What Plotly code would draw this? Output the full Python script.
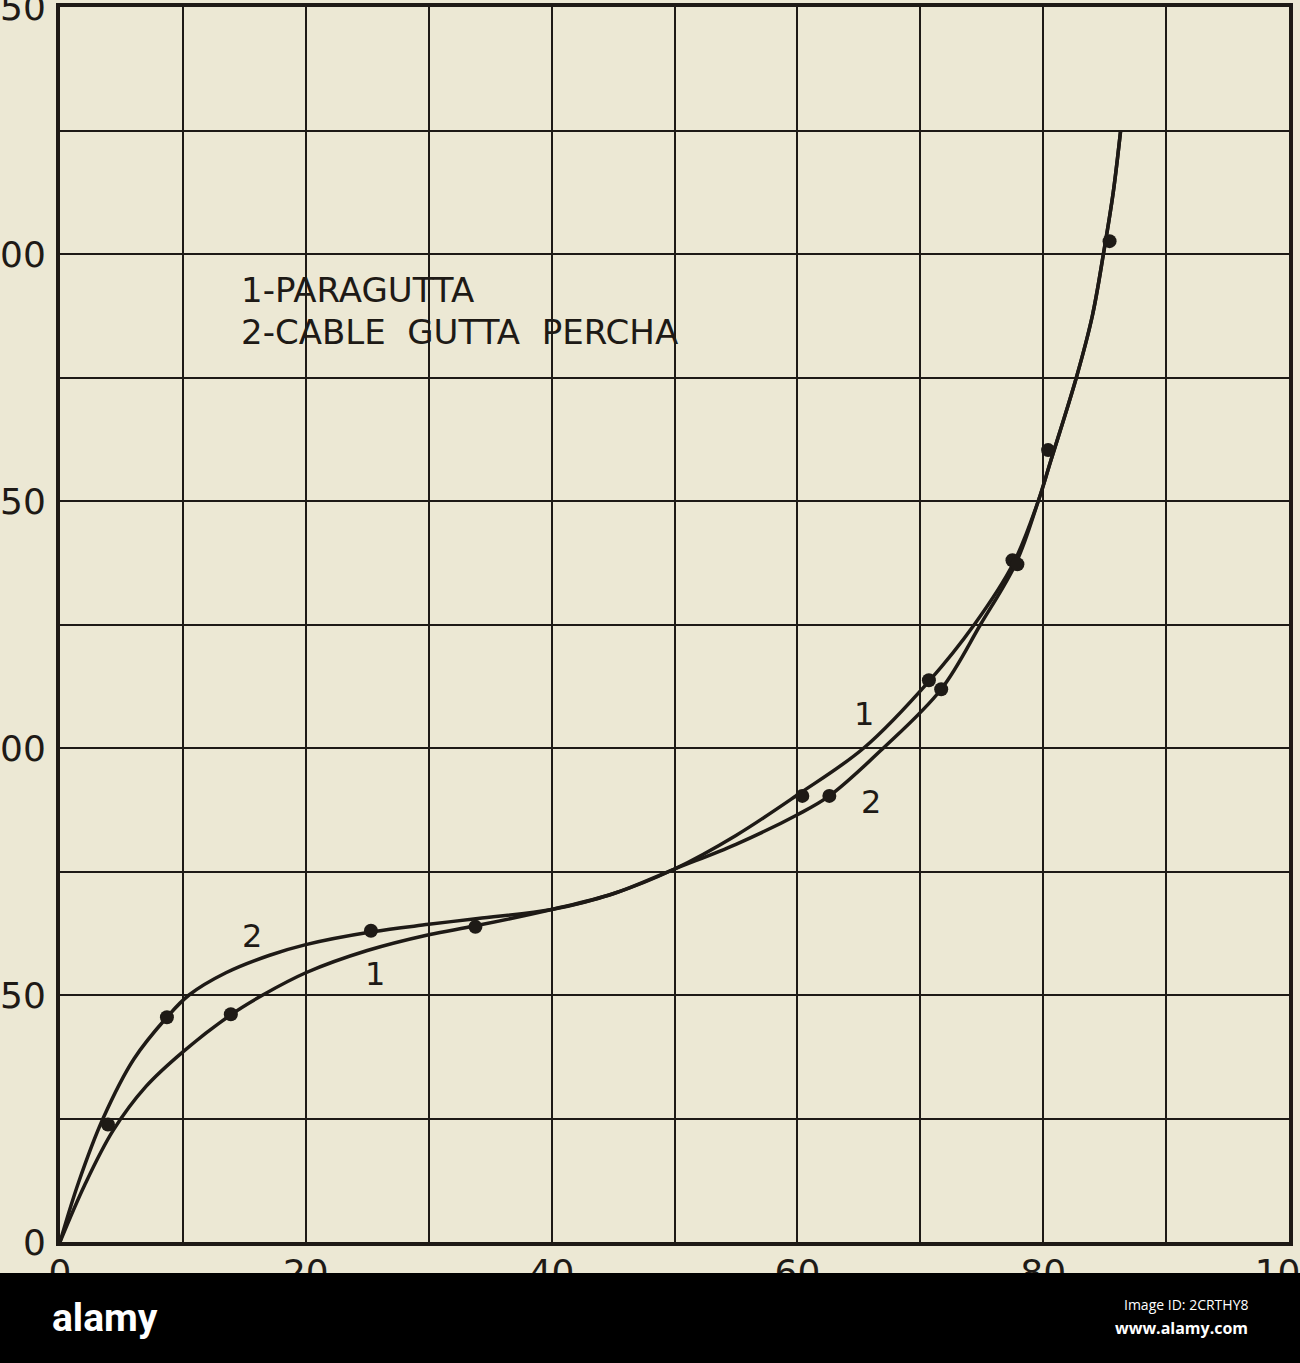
import plotly.graph_objects as go

# ---- data ----
# Curve 1 - Paragutta
c1_x = [0, 2.0, 4.3, 7.0, 10.0, 13.9, 16.5, 20.0, 25.0, 30.0, 33.8, 40.0, 45.0, 50.0,
        55.0, 60.0, 65.4, 70.7, 74.4, 77.6, 79.6, 80.6, 82.7, 84.0, 84.9, 85.7, 86.3]
c1_y = [0, 11.5, 22.5, 31.5, 38.5, 46.0, 50.0, 54.5, 59.0, 62.2, 64.0, 67.3, 70.5, 75.5,
        82.3, 90.5, 100.0, 113.5, 125.0, 137.5, 150.0, 158.0, 175.0, 187.5, 200.0, 212.5, 225.0]
# Curve 2 - Cable gutta percha
c2_x = [0, 1.5, 3.5, 6.0, 8.7, 10.5, 13.5, 17.0, 20.0, 25.4, 30.0, 34.0, 40.0, 45.0, 50.0,
        55.0, 60.0, 62.6, 67.0, 71.7, 74.9, 77.8, 79.6, 80.6, 82.7, 84.0, 84.9, 85.7, 86.3]
c2_y = [0, 12.0, 25.0, 37.0, 45.5, 50.0, 54.5, 58.0, 60.2, 62.8, 64.3, 65.5, 67.3, 70.5, 75.5,
        80.5, 86.5, 90.3, 100.0, 111.9, 125.0, 137.5, 150.0, 158.0, 175.0, 187.5, 200.0, 212.5, 225.0]

# observed points (dots)
p1_x = [3.9, 13.9, 33.8, 60.4, 70.7, 77.5, 80.4, 85.4]
p1_y = [23.8, 46.1, 63.8, 90.3, 113.7, 138.0, 160.3, 202.6]
p2_x = [8.7, 25.3, 62.6, 71.7, 77.9]
p2_y = [45.5, 63.0, 90.3, 111.9, 137.2]

x_ticks = [0, 20, 40, 60, 80, 100]
y_ticks = [0, 50, 100, 150, 200, 250]

legend_lines = ["1-PARAGUTTA", "2-CABLE&nbsp;&nbsp;GUTTA&nbsp;&nbsp;PERCHA"]
curve_labels = [("2", 15.6, 61.9), ("1", 25.6, 54.3), ("1", 65.4, 106.9), ("2", 66.0, 89.1)]

INK = "#1e1a16"
PAPER = "#ece8d4"
FONT = "DejaVu Sans"

fig = go.Figure()
for cx, cy in [(c1_x, c1_y), (c2_x, c2_y)]:
    fig.add_trace(go.Scatter(x=cx, y=cy, mode="lines",
                             line=dict(color=INK, width=3.5, shape="spline", smoothing=1.0),
                             hoverinfo="skip", showlegend=False))
for px, py in [(p1_x, p1_y), (p2_x, p2_y)]:
    fig.add_trace(go.Scatter(x=px, y=py, mode="markers",
                             marker=dict(color=INK, size=14), showlegend=False))

for i, t in enumerate(legend_lines):
    fig.add_annotation(x=14.6, y=[192.7, 184.2][i], text=t, showarrow=False,
                       xanchor="left", yanchor="middle",
                       font=dict(family=FONT, size=34, color=INK))
for t, lx, ly in curve_labels:
    fig.add_annotation(x=lx, y=ly, text=t, showarrow=False,
                       font=dict(family=FONT, size=32, color=INK))

# watermark band at the bottom of the picture
fig.add_shape(type="rect", xref="paper", yref="paper", x0=-0.1, x1=1.1,
              y0=-0.0251, y1=-0.2, fillcolor="#000000", line=dict(width=0), layer="above")
fig.add_annotation(xref="paper", yref="paper", x=-0.0081, y=-0.0615, text="<b>alamy</b>",
                   showarrow=False, xanchor="left", yanchor="middle",
                   font=dict(family="Roboto", size=39, color="white"))
fig.add_annotation(xref="paper", yref="paper", x=0.9683, y=-0.051, text="Image ID: 2CRTHY8",
                   showarrow=False, xanchor="right", yanchor="middle",
                   font=dict(family="Open Sans", size=14, color="white"))
fig.add_annotation(xref="paper", yref="paper", x=0.9683, y=-0.0696, text="<b>www.alamy.com</b>",
                   showarrow=False, xanchor="right", yanchor="middle",
                   font=dict(family="Open Sans", size=16, color="white"))

axis_common = dict(showgrid=True, gridcolor=INK, gridwidth=2,
                   showline=True, linecolor=INK, linewidth=4, mirror=True,
                   zeroline=False, ticks="", fixedrange=True, automargin=False,
                   ticklabeloverflow="allow",
                   tickfont=dict(family=FONT, size=36, color=INK))
fig.update_xaxes(range=[0, 100], tickvals=x_ticks, ticktext=[str(v) for v in x_ticks],
                 minor=dict(dtick=10, showgrid=True, gridcolor=INK, gridwidth=2),
                 ticklabelstandoff=-4, **axis_common)
fig.update_yaxes(range=[0, 250], tickvals=y_ticks, ticktext=[str(v) for v in y_ticks],
                 minor=dict(dtick=25, showgrid=True, gridcolor=INK, gridwidth=2),
                 ticklabelstandoff=3, **axis_common)

fig.update_layout(width=1300, height=1363, autosize=False,
                  margin=dict(l=60, r=11, t=7, b=121),
                  paper_bgcolor=PAPER, plot_bgcolor=PAPER, showlegend=False)

fig.write_html("out.html", config={"displayModeBar": False},
               post_script="document.body.style.margin='0';"
                           "document.body.style.background='" + PAPER + "';")
